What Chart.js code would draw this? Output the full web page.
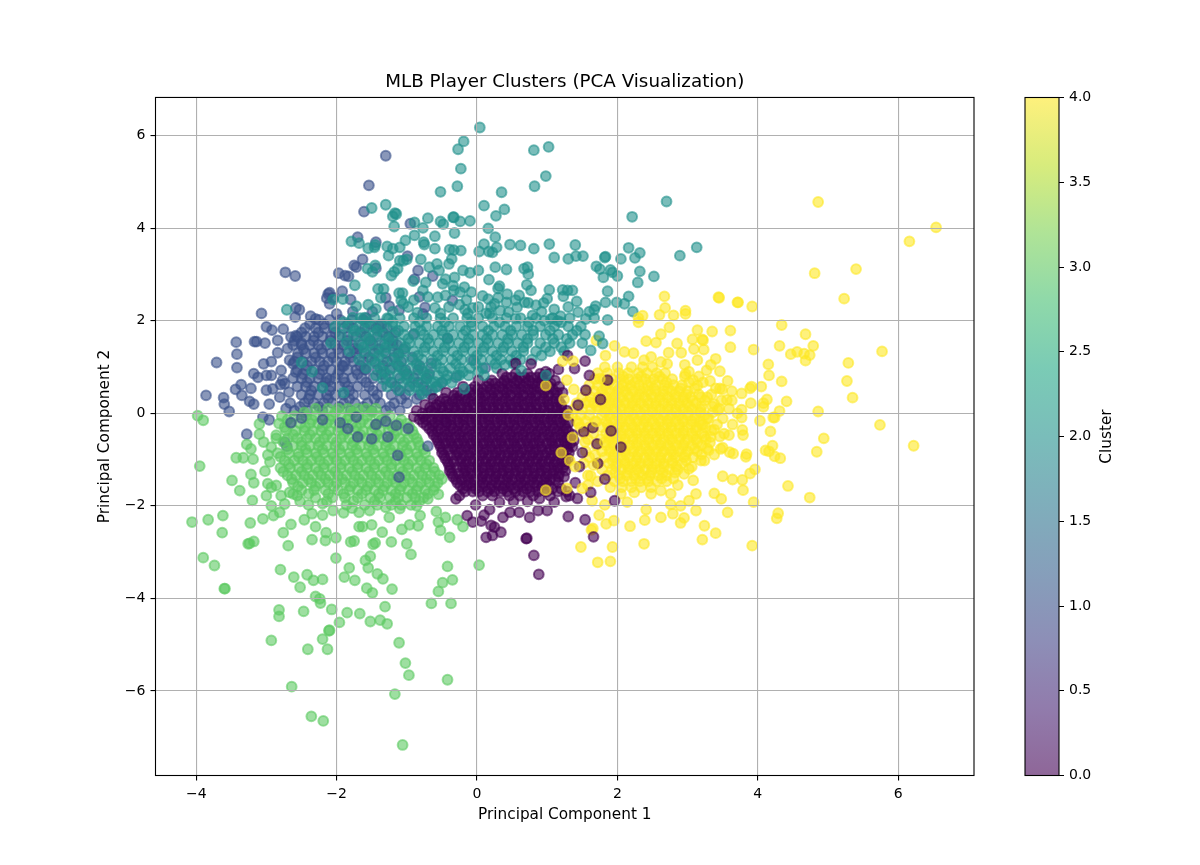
<!DOCTYPE html>
<html>
<head>
<meta charset="utf-8">
<title>MLB Player Clusters</title>
<script src="https://cdn.jsdelivr.net/npm/chart.js@4/dist/chart.umd.min.js"></script>
<style>
  html, body { margin: 0; background: #fff; }
  #wrap { position: relative; width: 1200px; height: 865px; }
  canvas { position: absolute; top: 0; }
  #scatter { left: 0; }
  #colorbar { left: 1000px; }
</style>
</head>
<body>
<div id="wrap">
  <canvas id="scatter" width="1200" height="865"></canvas>
  <canvas id="colorbar" width="200" height="865"></canvas>
</div>
<script>
// viridis colours of the five cluster labels
const clusterColors = ["68,1,84", "59,82,139", "33,145,140", "94,201,98", "253,231,37"];
const xTicks = [-4, -2, 0, 2, 4, 6];
const yTicks = [-6, -4, -2, 0, 2, 4, 6];
const barTicks = [0, 0.5, 1, 1.5, 2, 2.5, 3, 3.5, 4];
const barRange = [0, 4];
const barStops = ["68,1,84", "72,36,117", "65,68,135", "53,95,141", "42,120,142", "33,145,140", "34,168,132", "68,191,112", "122,209,81", "189,223,38", "253,231,37"];

// Crowded middles of the clusters, one row per y value: [y, [x, x, ...]]
const purpleRows = [
  [0.78, [0.42, 0.5, 0.6, 0.68, 0.77, 0.86, 0.93]],
  [0.65, [0.17, 0.26, 0.35, 0.43, 0.53, 0.61, 0.7, 0.79, 0.87, 0.97, 1.05]],
  [0.52, [-0.08, 0.01, 0.09, 0.19, 0.27, 0.37, 0.45, 0.55, 0.63, 0.73, 0.81, 0.9, 0.99, 1.08]],
  [0.39, [-0.33, -0.24, -0.16, -0.06, 0.03, 0.12, 0.21, 0.3, 0.39, 0.48, 0.57, 0.66, 0.75, 0.84, 0.93, 1.02, 1.12]],
  [0.26, [-0.53, -0.44, -0.35, -0.27, -0.17, -0.09, 0.01, 0.09, 0.18, 0.27, 0.36, 0.45, 0.55, 0.63, 0.72, 0.81, 0.9, 1, 1.08, 1.17]],
  [0.13, [-0.67, -0.59, -0.5, -0.4, -0.32, -0.22, -0.14, -0.04, 0.05, 0.13, 0.23, 0.31, 0.41, 0.5, 0.58, 0.68, 0.76, 0.85, 0.95, 1.03, 1.13, 1.2]],
  [0, [-0.78, -0.7, -0.6, -0.51, -0.43, -0.33, -0.25, -0.15, -0.07, 0.03, 0.11, 0.2, 0.29, 0.38, 0.46, 0.56, 0.64, 0.73, 0.82, 0.9, 1, 1.08, 1.17, 1.24]],
  [-0.13, [-0.82, -0.73, -0.64, -0.56, -0.46, -0.38, -0.28, -0.2, -0.11, -0.02, 0.07, 0.16, 0.25, 0.34, 0.42, 0.52, 0.6, 0.69, 0.78, 0.87, 0.96, 1.05, 1.14, 1.23]],
  [-0.26, [-0.72, -0.63, -0.55, -0.45, -0.37, -0.27, -0.19, -0.09, 0, 0.08, 0.18, 0.26, 0.36, 0.45, 0.53, 0.63, 0.71, 0.8, 0.9, 0.98, 1.08, 1.16, 1.25]],
  [-0.39, [-0.64, -0.56, -0.46, -0.38, -0.29, -0.2, -0.11, -0.02, 0.06, 0.16, 0.24, 0.33, 0.43, 0.51, 0.6, 0.69, 0.78, 0.87, 0.96, 1.05, 1.14, 1.23, 1.3]],
  [-0.52, [-0.58, -0.49, -0.41, -0.31, -0.23, -0.13, -0.05, 0.05, 0.13, 0.22, 0.31, 0.4, 0.49, 0.58, 0.66, 0.76, 0.84, 0.93, 1.03, 1.11, 1.2, 1.28, 1.33]],
  [-0.65, [-0.54, -0.45, -0.36, -0.27, -0.18, -0.09, 0, 0.09, 0.18, 0.27, 0.35, 0.45, 0.53, 0.62, 0.72, 0.8, 0.89, 0.99, 1.07, 1.16, 1.25, 1.33]],
  [-0.78, [-0.49, -0.41, -0.31, -0.23, -0.13, -0.05, 0.05, 0.13, 0.22, 0.31, 0.4, 0.49, 0.58, 0.66, 0.76, 0.84, 0.93, 1.03, 1.11, 1.2, 1.29]],
  [-0.91, [-0.47, -0.37, -0.29, -0.19, -0.11, -0.01, 0.07, 0.17, 0.26, 0.34, 0.44, 0.52, 0.61, 0.71, 0.79, 0.88, 0.97, 1.06, 1.15, 1.24]],
  [-1.04, [-0.42, -0.33, -0.24, -0.15, -0.06, 0.03, 0.12, 0.21, 0.3, 0.39, 0.48, 0.57, 0.66, 0.75, 0.84, 0.93, 1.02, 1.11, 1.2, 1.27]],
  [-1.17, [-0.38, -0.29, -0.2, -0.11, -0.02, 0.07, 0.16, 0.25, 0.34, 0.43, 0.52, 0.61, 0.7, 0.79, 0.88, 0.97, 1.06, 1.15, 1.23]],
  [-1.3, [-0.36, -0.26, -0.18, -0.08, 0, 0.1, 0.18, 0.28, 0.36, 0.46, 0.54, 0.64, 0.72, 0.82, 0.9, 1, 1.08, 1.17]],
  [-1.43, [-0.3, -0.22, -0.12, -0.04, 0.06, 0.14, 0.24, 0.32, 0.42, 0.5, 0.6, 0.68, 0.78, 0.86, 0.96, 1.04, 1.12]],
  [-1.56, [-0.24, -0.15, -0.06, 0.04, 0.12, 0.21, 0.31, 0.39, 0.48, 0.58, 0.66, 0.75, 0.85, 0.93, 1.02]],
  [-1.69, [-0.17, -0.06, 0.03, 0.15, 0.25, 0.34, 0.43, 0.55, 0.66, 0.76, 0.87, 0.99, 1.15, 1.28]],
  // second sweep between the rows above
  [0.86, [0.36, 0.55, 0.72, 0.9, 1.03]],
  [0.71, [0.02, 0.21, 0.39, 0.57, 0.74, 0.92, 1.11]],
  [0.58, [-0.2, -0.03, 0.14, 0.32, 0.48, 0.66, 0.85, 1.03, 1.17]],
  [0.45, [-0.44, -0.28, -0.1, 0.07, 0.24, 0.42, 0.6, 0.78, 0.96, 1.14, 1.22]],
  [0.32, [-0.62, -0.47, -0.3, -0.13, 0.05, 0.23, 0.41, 0.59, 0.77, 0.95, 1.13]],
  [0.19, [-0.74, -0.58, -0.41, -0.24, -0.06, 0.12, 0.3, 0.48, 0.66, 0.84, 1.02, 1.2]],
  [0.06, [-0.86, -0.65, -0.48, -0.3, -0.12, 0.06, 0.24, 0.42, 0.6, 0.78, 0.96, 1.14, 1.28]],
  [-0.07, [-0.9, -0.76, -0.55, -0.37, -0.19, -0.01, 0.17, 0.35, 0.53, 0.71, 0.89, 1.07, 1.25]],
  [-0.2, [-0.77, -0.6, -0.43, -0.25, -0.07, 0.11, 0.29, 0.47, 0.65, 0.83, 1.01, 1.19, 1.31]],
  [-0.33, [-0.68, -0.52, -0.34, -0.16, 0.02, 0.2, 0.38, 0.56, 0.74, 0.92, 1.1, 1.27]],
  [-0.46, [-0.62, -0.43, -0.25, -0.07, 0.11, 0.29, 0.47, 0.65, 0.83, 1.01, 1.19, 1.36]],
  [-0.59, [-0.56, -0.38, -0.2, -0.02, 0.16, 0.34, 0.52, 0.7, 0.88, 1.06, 1.24, 1.38]],
  [-0.72, [-0.52, -0.34, -0.16, 0.02, 0.2, 0.38, 0.56, 0.74, 0.92, 1.1, 1.28, 1.36]],
  [-0.85, [-0.5, -0.27, -0.09, 0.09, 0.27, 0.45, 0.63, 0.81, 0.99, 1.17, 1.31]],
  [-0.98, [-0.45, -0.22, -0.04, 0.14, 0.32, 0.5, 0.68, 0.86, 1.04, 1.22, 1.3]],
  [-1.11, [-0.4, -0.17, 0.01, 0.19, 0.37, 0.55, 0.73, 0.91, 1.09, 1.25]],
  [-1.24, [-0.39, -0.16, 0.02, 0.2, 0.38, 0.56, 0.74, 0.92, 1.1, 1.26]],
  [-1.37, [-0.34, -0.14, 0.08, 0.26, 0.44, 0.62, 0.8, 0.98, 1.16, 1.24]],
  [-1.5, [-0.28, -0.09, 0.09, 0.27, 0.45, 0.63, 0.81, 0.99, 1.16]],
  [-1.63, [-0.2, -0.02, 0.19, 0.37, 0.52, 0.71, 0.92, 1.07, 1.2]],
  [-1.78, [-0.25, 0.08, 0.22, 0.46, 0.61, 0.8, 1.04, 1.32]]
];
const yellowRows = [
  [1, [1.82, 2.0, 2.2, 2.36, 2.5]],
  [0.87, [1.72, 1.86, 2.02, 2.15, 2.3, 2.42, 2.56, 2.68]],
  [0.74, [1.68, 1.8, 1.92, 2.04, 2.16, 2.28, 2.4, 2.52, 2.64, 2.78]],
  [0.61, [1.6, 1.72, 1.83, 1.95, 2.07, 2.19, 2.31, 2.43, 2.55, 2.67, 2.8, 2.92]],
  [0.48, [1.56, 1.67, 1.78, 1.89, 2, 2.11, 2.22, 2.33, 2.44, 2.55, 2.66, 2.77, 2.88, 3]],
  [0.35, [1.5, 1.62, 1.73, 1.84, 1.95, 2.06, 2.17, 2.28, 2.39, 2.5, 2.61, 2.72, 2.83, 2.94, 3.04]],
  [0.22, [1.42, 1.54, 1.66, 1.78, 1.89, 2, 2.11, 2.22, 2.33, 2.44, 2.55, 2.66, 2.77, 2.88, 2.99, 3.12]],
  [0.09, [1.38, 1.5, 1.62, 1.73, 1.84, 1.95, 2.06, 2.17, 2.28, 2.39, 2.5, 2.61, 2.72, 2.83, 2.94, 3.06, 3.18]],
  [-0.04, [1.36, 1.48, 1.6, 1.78, 1.89, 2, 2.11, 2.22, 2.33, 2.44, 2.55, 2.66, 2.77, 2.88, 3, 3.12, 3.24]],
  [-0.17, [1.42, 1.55, 1.68, 1.84, 1.95, 2.06, 2.17, 2.28, 2.39, 2.5, 2.61, 2.72, 2.83, 2.94, 3.06, 3.18]],
  [-0.3, [1.47, 1.6, 1.78, 1.89, 2, 2.11, 2.22, 2.33, 2.44, 2.55, 2.66, 2.77, 2.88, 3, 3.13, 3.26]],
  [-0.43, [1.52, 1.66, 1.84, 1.95, 2.06, 2.17, 2.28, 2.39, 2.5, 2.61, 2.72, 2.83, 2.94, 3.06, 3.2]],
  [-0.56, [1.58, 1.76, 1.89, 2, 2.11, 2.22, 2.33, 2.44, 2.55, 2.66, 2.77, 2.88, 3, 3.12, 3.26]],
  [-0.69, [1.7, 1.84, 1.95, 2.06, 2.17, 2.28, 2.39, 2.5, 2.61, 2.72, 2.83, 2.94, 3.06, 3.2]],
  [-0.82, [1.55, 1.78, 1.89, 2, 2.11, 2.22, 2.33, 2.44, 2.55, 2.66, 2.77, 2.88, 3, 3.14]],
  [-0.95, [1.6, 1.82, 1.95, 2.06, 2.17, 2.28, 2.39, 2.5, 2.61, 2.72, 2.83, 2.95, 3.08]],
  [-1.08, [1.52, 1.72, 1.88, 2, 2.11, 2.22, 2.33, 2.44, 2.55, 2.66, 2.78, 2.92]],
  [-1.21, [1.78, 1.92, 2.06, 2.17, 2.28, 2.39, 2.5, 2.61, 2.74, 2.86]],
  [-1.34, [1.58, 1.86, 2.02, 2.13, 2.24, 2.35, 2.46, 2.58, 2.7]],
  [-1.47, [1.72, 1.96, 2.08, 2.2, 2.32, 2.44, 2.56, 2.7]],
  [-1.6, [1.9, 2.06, 2.2, 2.34, 2.48]],
  // second sweep, tightest around the centre of the cluster
  [0.8, [2.08, 2.34, 2.6, 2.96, 3.16]],
  [0.67, [1.88, 2.1, 2.25, 2.47, 2.7, 3.02, 3.22]],
  [0.54, [1.84, 2.03, 2.18, 2.37, 2.52, 2.72, 2.9, 3.1, 3.4]],
  [0.41, [1.8, 1.97, 2.14, 2.31, 2.48, 2.65, 2.82, 2.98, 3.16, 3.34]],
  [0.28, [1.75, 1.92, 2.09, 2.26, 2.43, 2.6, 2.77, 2.94, 3.08, 3.25, 3.48]],
  [0.15, [1.7, 1.87, 2.04, 2.21, 2.38, 2.55, 2.72, 2.89, 3.03, 3.2, 3.35]],
  [0.02, [1.82, 1.99, 2.16, 2.33, 2.5, 2.67, 2.84, 3.01, 3.18, 3.36]],
  [-0.11, [1.9, 2.07, 2.24, 2.41, 2.58, 2.75, 2.92, 3.1, 3.3, 3.5]],
  [-0.24, [1.86, 2.03, 2.2, 2.37, 2.54, 2.71, 2.88, 3.05, 3.22, 3.42]],
  [-0.37, [1.92, 2.09, 2.26, 2.43, 2.6, 2.77, 2.94, 3.12, 3.34]],
  [-0.5, [1.88, 2.05, 2.22, 2.39, 2.56, 2.73, 2.9, 3.08, 3.24, 3.46]],
  [-0.63, [1.94, 2.11, 2.28, 2.45, 2.62, 2.79, 2.96, 3.14, 3.32]],
  [-0.76, [1.9, 2.07, 2.24, 2.41, 2.58, 2.75, 2.92, 3.1, 3.28]],
  [-0.89, [1.95, 2.12, 2.29, 2.46, 2.63, 2.8, 2.97, 3.2, 3.38]],
  [-1.02, [1.93, 2.1, 2.27, 2.44, 2.61, 2.78, 2.98, 3.24]],
  [-1.15, [1.98, 2.15, 2.32, 2.49, 2.66, 2.84, 3.06]],
  [-1.28, [1.97, 2.14, 2.31, 2.48, 2.65, 2.82]],
  [-1.41, [2.04, 2.26, 2.42, 2.63, 2.8]]
];
const greenRows = [
  [0.1, [-2.3, -2.12, -1.98, -1.84, -1.7, -1.58, -1.44]],
  [-0.06, [-2.78, -2.6, -2.44, -2.3, -2.18, -2.06, -1.94, -1.82, -1.7, -1.56, -1.4, -1.24]],
  [-0.22, [-2.82, -2.66, -2.52, -2.38, -2.26, -2.14, -2.02, -1.9, -1.78, -1.66, -1.54, -1.42, -1.28, -1.12, -1]],
  [-0.38, [-2.72, -2.58, -2.46, -2.34, -2.22, -2.1, -1.98, -1.86, -1.74, -1.62, -1.5, -1.38, -1.26, -1.14, -1.02, -0.92]],
  [-0.54, [-2.86, -2.7, -2.56, -2.42, -2.3, -2.18, -2.06, -1.94, -1.82, -1.7, -1.58, -1.46, -1.34, -1.22, -1.1, -0.98, -0.86]],
  [-0.7, [-2.62, -2.5, -2.38, -2.26, -2.14, -2.02, -1.9, -1.78, -1.66, -1.54, -1.42, -1.3, -1.18, -1.06, -0.94, -0.82]],
  [-0.86, [-2.84, -2.68, -2.54, -2.42, -2.3, -2.18, -2.06, -1.94, -1.82, -1.7, -1.58, -1.46, -1.34, -1.22, -1.1, -0.98, -0.86, -0.74]],
  [-1.02, [-2.74, -2.6, -2.48, -2.36, -2.24, -2.12, -2, -1.88, -1.76, -1.64, -1.52, -1.4, -1.28, -1.16, -1.04, -0.92, -0.8, -0.68]],
  [-1.18, [-2.8, -2.66, -2.54, -2.42, -2.3, -2.18, -2.06, -1.94, -1.82, -1.7, -1.58, -1.46, -1.34, -1.22, -1.1, -0.98, -0.86, -0.74, -0.62]],
  [-1.34, [-2.7, -2.58, -2.46, -2.34, -2.22, -2.1, -1.98, -1.86, -1.74, -1.62, -1.5, -1.38, -1.26, -1.14, -1.02, -0.9, -0.78, -0.66, -0.54]],
  [-1.5, [-2.62, -2.48, -2.36, -2.24, -2.12, -2, -1.88, -1.76, -1.64, -1.52, -1.4, -1.28, -1.16, -1.04, -0.92, -0.8, -0.68, -0.56]],
  [-1.66, [-2.5, -2.32, -2.16, -1.98, -1.82, -1.7, -1.58, -1.46, -1.34, -1.22, -1.1, -0.98, -0.86, -0.74, -0.62]],
  [-1.82, [-2.3, -2.06, -1.88, -1.7, -1.52, -1.38, -1.24, -1.12, -1, -0.88, -0.76]],
  [-1.98, [-2.4, -1.86, -1.6, -1.42, -1.22, -1.08, -0.94]],
  // second sweep between the rows above
  [0.02, [-2.46, -2.02, -1.76, -1.5]],
  [-0.14, [-2.7, -2.35, -2.1, -1.85, -1.62, -1.36, -1.08]],
  [-0.3, [-2.74, -2.45, -2.2, -1.96, -1.72, -1.46, -1.2, -0.96]],
  [-0.46, [-2.62, -2.38, -2.14, -1.9, -1.66, -1.42, -1.18, -0.9]],
  [-0.62, [-2.76, -2.5, -2.24, -2, -1.76, -1.52, -1.28, -1.04, -0.84]],
  [-0.78, [-2.7, -2.44, -2.2, -1.96, -1.72, -1.48, -1.24, -1, -0.76]],
  [-0.94, [-2.8, -2.54, -2.28, -2.04, -1.8, -1.56, -1.32, -1.08, -0.84]],
  [-1.1, [-2.68, -2.42, -2.18, -1.94, -1.7, -1.46, -1.22, -0.98, -0.72]],
  [-1.26, [-2.76, -2.5, -2.26, -2.02, -1.78, -1.54, -1.3, -1.06, -0.82, -0.6]],
  [-1.42, [-2.64, -2.4, -2.16, -1.92, -1.68, -1.44, -1.2, -0.96, -0.72, -0.5]],
  [-1.58, [-2.55, -2.3, -2.04, -1.8, -1.56, -1.32, -1.08, -0.84, -0.6]],
  [-1.74, [-2.62, -2.4, -2.12, -1.9, -1.64, -1.4, -1.16, -0.92, -0.7]],
  [-1.9, [-2.52, -2.14, -1.76, -1.46, -1.16, -0.82]]
];
const blueRows = [
  [2.02, [-2.25, -2.1, -1.95, -1.78, -1.62]],
  [1.84, [-2.45, -2.3, -2.17, -2.04, -1.9, -1.76, -1.6, -1.44, -1.28]],
  [1.66, [-2.56, -2.44, -2.32, -2.2, -2.08, -1.96, -1.84, -1.72, -1.58, -1.42, -1.26]],
  [1.48, [-2.62, -2.5, -2.38, -2.26, -2.14, -2.02, -1.9, -1.78, -1.64, -1.48, -1.32, -1.14]],
  [1.3, [-2.55, -2.44, -2.32, -2.2, -2.08, -1.96, -1.84, -1.72, -1.6, -1.46, -1.3, -1.12]],
  [1.12, [-2.6, -2.48, -2.36, -2.24, -2.12, -2, -1.88, -1.76, -1.62, -1.46, -1.28, -1.08]],
  [0.94, [-2.56, -2.44, -2.32, -2.2, -2.08, -1.96, -1.84, -1.72, -1.58, -1.42, -1.24, -1.02, -0.84]],
  [0.76, [-2.62, -2.5, -2.38, -2.26, -2.14, -2.02, -1.9, -1.78, -1.64, -1.48, -1.3, -1.1, -0.9, -0.72]],
  [0.58, [-2.56, -2.44, -2.32, -2.2, -2.08, -1.96, -1.84, -1.7, -1.54, -1.36, -1.16, -0.96, -0.76, -0.58]],
  [0.4, [-2.5, -2.38, -2.26, -2.14, -2.02, -1.9, -1.76, -1.6, -1.42, -1.22, -1.02, -0.82, -0.66]],
  [0.22, [-2.46, -2.32, -2.18, -2.06, -1.9, -1.74, -1.56, -1.38, -1.18, -1]],
  [0.06, [-2.6, -2.42, -2.2, -1.8, -1.5, -1.3, -1.1]],
  // second sweep between the rows above
  [1.93, [-2.38, -2.18, -1.84, -1.52, -1.36]],
  [1.75, [-2.5, -2.26, -2.02, -1.66, -1.34, -1.16]],
  [1.57, [-2.6, -2.33, -2.09, -1.85, -1.52, -1.2]],
  [1.39, [-2.47, -2.22, -1.98, -1.7, -1.4, -1.04]],
  [1.21, [-2.56, -2.3, -2.05, -1.8, -1.54, -1.18, -0.92]],
  [1.03, [-2.42, -2.18, -1.92, -1.66, -1.34, -1.12, -0.82]],
  [0.85, [-2.48, -2.24, -1.98, -1.7, -1.36, -1, -0.68]],
  [0.67, [-2.42, -2.16, -1.88, -1.58, -1.22, -0.84, -0.5]],
  [0.49, [-2.36, -2.1, -1.82, -1.48, -1.1, -0.72]],
  [0.31, [-2.4, -2.12, -1.82, -1.46, -1.08, -0.86]],
  [0.14, [-2.52, -2.25, -1.96, -1.62, -1.24]]
];
const tealRows = [
  [2.06, [-1.66, -1.46, -1.28, -1.1, -0.9, -0.72, -0.52, -0.34, -0.14, 0.02, 0.22, 0.42, 0.62, 0.84, 1.08, 1.32]],
  [1.88, [-2.02, -1.84, -1.68, -1.52, -1.36, -1.2, -1.04, -0.88, -0.72, -0.56, -0.4, -0.24, -0.08, 0.08, 0.24, 0.4, 0.56, 0.72, 0.9, 1.1, 1.3, 1.48]],
  [1.7, [-1.94, -1.76, -1.6, -1.46, -1.32, -1.18, -1.04, -0.9, -0.76, -0.62, -0.48, -0.34, -0.2, -0.06, 0.08, 0.22, 0.36, 0.5, 0.64, 0.8, 0.98, 1.16, 1.36, 1.54]],
  [1.52, [-2.08, -1.86, -1.68, -1.52, -1.38, -1.24, -1.1, -0.96, -0.82, -0.68, -0.54, -0.4, -0.26, -0.12, 0.02, 0.16, 0.3, 0.44, 0.58, 0.72, 0.9, 1.1, 1.32, 1.5]],
  [1.34, [-1.82, -1.6, -1.46, -1.32, -1.18, -1.04, -0.9, -0.76, -0.62, -0.48, -0.34, -0.2, -0.06, 0.08, 0.22, 0.36, 0.5, 0.66, 0.84, 1.04, 1.24]],
  [1.16, [-1.68, -1.5, -1.34, -1.2, -1.06, -0.92, -0.78, -0.64, -0.5, -0.36, -0.22, -0.08, 0.06, 0.2, 0.34, 0.48, 0.62, 0.78]],
  [0.98, [-1.58, -1.38, -1.22, -1.08, -0.94, -0.8, -0.66, -0.52, -0.38, -0.24, -0.1, 0.08, 0.28]],
  [0.82, [-1.44, -1.26, -1.12, -0.98, -0.84, -0.7, -0.56, -0.42, -0.28, -0.12]],
  [0.66, [-1.22, -1.06, -0.92, -0.78, -0.64, -0.5, -0.36]],
  [0.5, [-1.12, -0.96, -0.8, -0.64]],
  // second sweep between the rows above
  [1.97, [-1.9, -1.58, -1.2, -0.82, -0.46, -0.08, 0.32, 0.74, 1.2]],
  [1.79, [-1.74, -1.42, -1.12, -0.8, -0.5, -0.16, 0.16, 0.48, 0.8, 1.04, 1.42]],
  [1.61, [-1.54, -1.26, -0.98, -0.7, -0.42, -0.12, 0.14, 0.44, 0.72, 1.08, 1.28]],
  [1.43, [-1.62, -1.3, -1.02, -0.74, -0.46, -0.18, 0.1, 0.38, 0.66, 0.98, 1.2]],
  [1.25, [-1.4, -1.12, -0.84, -0.56, -0.28, 0, 0.28, 0.56, 0.92]],
  [1.07, [-1.44, -1.14, -0.86, -0.58, -0.3, -0.02, 0.26, 0.52]],
  [0.9, [-1.32, -1.04, -0.76, -0.48, -0.2, 0.02]],
  [0.74, [-1.34, -1, -0.72, -0.44]],
  [0.58, [-1.28, -0.88, -0.56]]
];

// Points read one by one where the clouds thin out
const purpleOuter = [
  [0.7, -2.71], [1.3, -2.23], [1.54, -2.3], [1.66, -2.67], [1.96, -1.89], [1.82, -1.42], [1.71, -0.66], [1.65, -0.31],
  [2.05, -0.73], [1.91, -0.38], [1.86, 0.72], [1.54, 1.13], [1.39, 0.97], [1.29, 1.25], [0.98, 0.9], [0.77, 1.07],
  [0.34, -2.57], [0.25, -2.46], [0.2, -2.42], [0.22, -2.64], [0.13, -2.68], [0.06, -2.33], [-0.06, -2.35], [-0.14, -2.21],
  [0.1, -2.2], [0.75, -2.25], [0.87, -2.1], [1, -2.1], [0.6, -2.14], [0.47, -2.14], [0.37, -2.25], [0.18, -2.08],
  [1.27, -1.8], [1.43, -1.84], [1.62, -1.71], [0.89, -1.84], [0.72, -1.9], [0.71, -2.7], [0.81, -3.07], [0.88, -3.48],
  [-0.02, -1.98], [0.32, -1.92], [0.52, -1.9], [1.1, -1.92], [-0.3, -1.85], [1.4, -1.5], [1.46, -1.15], [1.5, -0.85],
  [1.52, -0.4], [1.44, 0.18], [1.55, 0.5], [1.72, -1.08], [1.6, 0.82], [1.76, 0.3], [1.16, 0.95], [0.55, 1.08]
];
const blueOuter = [
  [-1.3, 5.57], [-1.54, 4.93], [-1.61, 4.36], [-0.95, 4.1], [-1.7, 3.81], [-1.44, 3.7], [-1.63, 3.33], [-0.99, 3.4],
  [-1.75, 3.2], [-1.72, 3.16], [-1.44, 3.14], [-1.97, 3.03], [-1.88, 2.98], [-1.83, 2.96], [-0.84, 3.09], [-0.63, 2.97],
  [-0.89, 2.9], [-2.73, 3.05], [-2.59, 2.97], [-0.82, 2.52], [-3.07, 2.16], [-2.58, 2.28], [-2.53, 2.24], [-2.59, 2.08],
  [-2.37, 2.1], [-2.3, 2.04], [-2.12, 2.58], [-2.1, 2.61], [-2.14, 2.49], [-2.1, 2.37], [-2.05, 2.5], [-1.92, 2.64],
  [-1.8, 2.46], [-1.3, 2.5], [-1.25, 2.32], [-1.11, 2.23], [-1.77, 2.2], [-1.49, 2.2], [-1.58, 2.06], [-2, 2.15],
  [-0.74, 2.29], [-0.77, 2.15], [-3.43, 1.54], [-3.42, 1.28], [-3.42, 0.99], [-3.71, 1.1], [-3.86, 0.39], [-3.61, 0.34],
  [-3.6, 0.2], [-3.53, 0.04], [-3.44, 0.52], [-3.36, 0.62], [-3.35, 0.39], [-3.22, 0.54], [-3.24, 0.26], [-3.18, 0.2],
  [-3.17, 1.55], [-3.14, 1.55], [-3.02, 1.52], [-3, 1.87], [-2.92, 1.8], [-2.76, 1.82], [-2.84, 1.58], [-2.84, 1.31],
  [-2.7, 1.4], [-2.65, 1.65], [-2.58, 1.68], [-2.5, 1.52], [-3.04, 1.07], [-2.93, 1.12], [-3.18, 0.86], [-3.12, 0.78],
  [-3, 0.82], [-2.93, 0.82], [-2.79, 0.93], [-2.67, 1.15], [-2.62, 1.07], [-2.58, 0.89], [-3, 0.5], [-2.91, 0.53],
  [-2.77, 0.71], [-2.74, 0.64], [-2.81, 0.35], [-2.96, 0.2], [-3.05, -0.08], [-2.96, -0.14], [-3.28, -0.45], [-2.74, -0.62],
  [-2.71, -0.71], [-2.8, 0.62], [-2.68, 0.46], [-2.66, 0.22], [-2.72, 0.1]
];
const blueOverGreen = [
  [-2.65, -0.2], [-1.84, -0.33], [-1.7, -0.51], [-1.5, -0.55], [-1.27, -0.51], [-1.44, -0.24], [-1.13, -0.91], [-1.11, -1.38],
  [-0.7, -0.71], [-1.15, -0.26], [-1.3, -0.17], [-0.98, -0.33], [-1.72, -0.08], [-2.5, -0.1], [-2.2, -0.14], [-1.95, -0.2],
  [-0.44, -0.19], [-0.35, 2.44], [-1.6, 0.95], [-1.9, 1.02], [-2.1, 0.72], [-1.75, 1.4], [-1.2, 1.46], [-0.65, 1.08],
  [-0.3, 0.78], [-0.05, 1.15], [0.12, 0.98], [-0.42, 1.62], [-0.9, 1.72], [-1.4, 1.9]
];
const tealOuter = [
  [0.04, 6.18], [-0.19, 5.88], [-0.27, 5.71], [-0.23, 5.29], [-0.28, 4.91], [0.35, 4.78], [0.1, 4.49], [0.39, 4.41],
  [0.27, 4.27], [0.81, 5.69], [1.02, 5.76], [0.98, 5.13], [0.82, 4.91], [2.7, 4.58], [2.21, 4.25], [3.13, 3.59],
  [2.89, 3.41], [0.16, 4], [0.26, 3.81], [-0.32, 3.9], [0.1, 3.66], [0.28, 3.59], [0.47, 3.65], [0.62, 3.63],
  [0.81, 3.56], [1.03, 3.66], [1.1, 3.37], [1.3, 3.34], [1.4, 3.64], [1.41, 3.4], [1.51, 3.4], [1.82, 3.37],
  [1.83, 3.39], [2.05, 3.34], [2.16, 3.58], [2.32, 3.47], [2.25, 3.36], [1.7, 3.18], [1.75, 3.12], [1.9, 3.1],
  [1.93, 3.05], [2, 2.97], [1.8, 2.94], [2.32, 3.07], [2.29, 2.83], [2.52, 2.96], [1.86, 2.64], [2.16, 2.53],
  [1.83, 2.4], [1.99, 2.4], [2.1, 2.37], [2.22, 2.2], [1.69, 2.32], [1.67, 2.24], [1.67, 2.06], [1.86, 2.02],
  [1.44, 2.19], [0.03, 3.5], [0.17, 3.5], [0.22, 3.48], [-0.23, 3.52], [-0.33, 3.53], [-0.24, 4.15], [-0.1, 4.16],
  [-0.33, 4.24], [0.02, 3.09], [0.26, 3.16], [0.42, 3.11], [-0.2, 3.09], [-0.1, 3.04], [0.17, 2.89], [0.67, 3.13],
  [0.72, 3.16], [0.73, 3.01], [0.71, 2.78], [0.77, 2.66], [1.03, 2.67], [0.32, 2.75], [0.3, 2.7], [0.43, 2.58],
  [1.22, 2.67], [1.29, 2.66], [1.36, 2.66], [1.23, 2.53], [1, 2.48], [0.95, 2.39], [0.84, 2.34], [0.73, 2.39],
  [0.68, 2.4], [0.57, 2.29], [0.45, 2.19], [0.79, 2.12], [0.08, 2.54], [0.16, 2.47], [0.25, 2.37], [0.2, 2.3],
  [0.18, 2.16], [0.13, 2.16], [-0.06, 2.28], [-0.17, 2.24], [-0.13, 2.16], [-0.08, 2.62], [-0.18, 2.73], [-0.24, 2.62],
  [-0.32, 2.94], [-0.33, 2.66], [1.19, 2.1], [1.05, 2.04], [0.96, 2], [1.15, 2], [-0.52, 4.79], [-1.3, 4.51],
  [-1.5, 4.44], [-1.2, 4.26], [-1.17, 4.33], [-1.15, 4.31], [-1.18, 4.04], [-0.89, 4.13], [-0.7, 4.22], [-0.77, 4.01],
  [-0.52, 4.15], [-0.48, 4.09], [-0.34, 4.24], [-0.89, 3.85], [-0.6, 3.83], [-0.76, 3.7], [-0.75, 3.65], [-0.6, 3.56],
  [-1.02, 3.74], [-1.1, 3.59], [-1.28, 3.61], [-1.2, 3.56], [-1.26, 3.41], [-1.55, 3.57], [-1.46, 3.59], [-1.45, 3.64],
  [-1.79, 3.72], [-1.68, 3.68], [-0.39, 3.54], [-0.36, 3.34], [-0.4, 3.23], [-0.8, 3.33], [-1, 3.33], [-1.1, 3.3],
  [-1.05, 3.3], [-1.13, 3.13], [-1.18, 3.06], [-1.22, 2.98], [-1.56, 3.13], [-1.49, 3.06], [-1.45, 3.2], [-0.91, 2.86],
  [-0.68, 3.16], [-0.57, 3.23], [-0.54, 3.09], [-0.49, 2.8], [-0.73, 2.83], [-0.77, 2.66], [-0.7, 2.52], [-0.56, 2.51],
  [-0.45, 2.9], [-0.34, 2.76], [-1.74, 2.77], [-1.41, 2.69], [-1.33, 2.69], [-1.37, 2.5], [-1.11, 2.6], [-1.06, 2.6],
  [-1.08, 2.44], [-1.05, 2.37], [-2.71, 2.24], [-2.05, 2.46], [-1.91, 2.47], [-1.77, 2.07], [-1.6, 2.07], [-1.26, 2.04],
  [-0.98, 2.3], [-0.6, 2.28], [-0.4, 2.3], [-0.25, 2.35], [-1.55, 2.35], [-1.2, 2.2], [0.42, 2.4], [0.55, 2.05],
  [1.3, 2.3], [1.55, 2.04], [-2.2, 0.55], [-2.5, 1.1], [-2.35, 0.9], [-1.9, 0.45], [-0.9, 2.45], [-0.45, 2.55],
  [-0.15, 2.45], [0.02, 2.3], [0.33, 2.22], [0.6, 2.55], [0.92, 2.2], [1.1, 2.25], [1.42, 2.42], [-1.72, 2.32],
  [-1.44, 2.26], [-0.85, 2.18], [-0.52, 2.16], [0.3, 2.5], [0.55, 2.45], [1.6, 2.2]
];
const greenOuter = [
  [-3.9, -3.12], [-3.74, -3.29], [-3.6, -3.79], [-3.59, -3.79], [-2.8, -3.38], [-2.61, -3.54], [-2.52, -3.76], [-2.42, -3.49],
  [-2.33, -3.61], [-2.2, -3.59], [-2.01, -3.13], [-1.82, -3.34], [-1.89, -3.54], [-1.74, -3.61], [-1.55, -3.34], [-1.59, -3.18],
  [-1.52, -3.09], [-1.42, -3.47], [-1.34, -3.58], [-1.21, -3.8], [-1.57, -3.78], [-1.49, -3.88], [-2.3, -3.96], [-2.24, -4.01],
  [-2.23, -4.1], [-2.82, -4.25], [-2.82, -4.39], [-2.47, -4.28], [-2.07, -4.24], [-1.85, -4.31], [-1.67, -4.33], [-1.52, -4.5],
  [-1.38, -4.47], [-1.28, -4.55], [-1.31, -4.18], [-1.96, -4.52], [-2.11, -4.7], [-2.1, -4.69], [-2.2, -4.88], [-2.13, -5.1],
  [-2.41, -5.1], [-2.93, -4.91], [-1.11, -4.96], [-1.02, -5.4], [-0.97, -5.66], [-0.42, -5.76], [-2.64, -5.91], [-1.17, -6.07],
  [-2.36, -6.55], [-2.19, -6.65], [-1.06, -7.17], [-0.65, -4.11], [-0.37, -4.11], [-0.55, -3.85], [-0.49, -3.66], [-0.35, -3.6],
  [-0.42, -3.31], [0.03, -3.28], [-0.94, -3.05], [-1, -2.82], [-1.22, -2.78], [-1.48, -2.83], [-1.45, -2.8], [-2.69, -2.86],
  [-3.24, -2.81], [-3.26, -2.82], [-3.18, -2.77], [-2.35, -2.73], [-2.16, -2.75], [-2.01, -2.69], [-1.8, -2.78], [-1.75, -2.76],
  [-3.98, -0.05], [-3.9, -0.15], [-3.95, -1.14], [-4.06, -2.35], [-3.83, -2.3], [-3.62, -2.21], [-3.63, -2.58], [-3.49, -1.45],
  [-3.38, -1.67], [-3.2, -1.88], [-3.23, -2.37], [-3.05, -2.28], [-2.9, -2.21], [-2.65, -2.4], [-2.76, -2.58], [-2.46, -2.3],
  [-2.35, -2.17], [-2.3, -2.45], [-2.15, -2.58], [-1.68, -2.14], [-1.68, -2.45], [-1.63, -2.45], [-1.5, -2.41], [-1.35, -2.57],
  [-1.07, -2.51], [-0.96, -2.41], [-0.84, -2.43], [-0.81, -2.21], [-0.55, -2.35], [-0.52, -2.53], [-0.39, -2.68], [-0.58, -2.12],
  [-1.53, -2.1], [-1.25, -2.25], [-1.3, -2.03], [-3.33, -0.96], [-3.43, -0.96], [-3.28, -0.67], [-3.22, -0.77], [-3.19, -0.99],
  [-3.22, -1.32], [-3.18, -1.5], [-3.02, -1.25], [-3.04, -0.62], [-2.93, -0.73], [-3.1, -0.23], [-2.86, -0.47], [-2.98, -1.52],
  [-2.93, -1.6], [-2.86, -1.56], [-3, -1.78], [-2.93, -2], [-2.74, -1.96], [-2.79, -1.78], [-2.67, -1.71], [-2.56, -1.78],
  [-2.81, -2.14], [-2.95, -1.05], [-2.98, -0.9], [-2.2, -1.95], [-2.05, -2.1], [-1.9, -2.15], [-2.2, -2.2], [-1.78, -2.05],
  [-1.1, -2.06], [-0.86, -2], [-0.7, -1.85], [-0.55, -1.75], [-0.45, -2.25], [-0.28, -2.3], [-0.2, -2.45], [-3.1, -0.45]
];
const yellowOuter = [
  [4.86, 4.57], [6.54, 4.02], [6.16, 3.72], [5.4, 3.12], [4.81, 3.03], [5.23, 2.48], [3.45, 2.5], [3.72, 2.4],
  [3.92, 2.31], [4.34, 1.91], [3.35, 1.77], [3.61, 1.79], [4.68, 1.71], [4.79, 1.46], [4.31, 1.46], [3.61, 1.43],
  [3.94, 1.38], [4.47, 1.28], [4.56, 1.33], [4.66, 1.29], [4.74, 1.26], [4.68, 1.14], [5.77, 1.34], [5.29, 1.09],
  [5.27, 0.7], [5.35, 0.34], [5.74, -0.25], [6.22, -0.7], [4.86, 0.04], [4.94, -0.54], [4.84, -0.83], [4.74, -1.82],
  [4.43, -1.57], [4.29, -2.16], [4.27, -2.27], [3.94, -1.92], [3.92, -2.86], [3.57, -2.14], [3.4, -2.59], [3.24, -2.43],
  [3.21, -2.73], [3.38, -1.73], [3.48, -1.85], [3.79, -1.66], [3.78, -1.44], [3.64, -1.43], [3.5, -1.36], [3.89, -1.3],
  [3.96, -1.21], [4.32, -0.97], [4.24, -0.93], [4.16, -0.82], [4.11, -0.8], [4.21, -0.7], [4.18, -0.39], [4.03, -0.16],
  [4.24, -0.09], [4.22, -0.09], [4.31, 0.05], [4.41, 0.26], [4.13, 0.3], [4.08, 0.22], [4.08, 0.14], [4.34, 0.69],
  [4.16, 0.82], [4.15, 1.06], [4.05, 0.58], [3.91, 0.58], [3.89, 0.54], [3.77, 0.43], [3.63, 0.48], [3.57, 0.7],
  [3.49, 0.52], [3.46, 0.54], [3.46, 0.91], [3.32, 0.7], [3.4, 1.18], [3.33, 1.05], [3.27, 0.93], [3.23, 1.38],
  [3.22, 1.58], [3.21, 1.6], [3.9, 0.22], [3.77, 0.08], [3.77, -0.09], [3.71, 0], [3.78, -0.36], [3.79, -0.47],
  [3.64, -0.24], [3.59, -0.47], [3.84, -0.88], [3.83, -0.94], [3.65, -0.87], [3.6, -0.84], [3.5, -0.74], [3.59, 0.1],
  [3.63, 0.28], [3.56, 0.29], [3.38, 0.2], [3.45, 0.1], [2.67, 2.53], [3.44, 2.51], [3.71, 2.4], [2.68, 2.28],
  [2.97, 2.22], [2.97, 2.15], [2.6, 2.13], [2.8, 2.12], [2.36, 2.11], [2.3, 2.06], [2.3, 1.97], [3.14, 1.8],
  [2.74, 1.86], [2.62, 1.71], [2.41, 1.56], [2.55, 1.53], [2.85, 1.51], [3.07, 1.6], [1.96, 1.46], [2.1, 1.33],
  [2.23, 1.3], [1.83, 1.25], [1.7, 1.58], [2.73, 1.31], [2.91, 1.31], [3.09, 1.39], [3.14, 1.15], [2.48, 1.22],
  [2.38, 1.15], [2.62, 1.11], [2.71, 1.07], [3.02, 0.9], [2.97, 0.85], [3.28, 0.35], [3.19, 0.35], [3.43, 0.07],
  [3.28, -0.1], [3.52, -0.44], [3.33, -0.51], [3.47, -0.77], [3.3, -0.8], [3.19, -1.02], [2.95, -1.31], [3.02, -1.2],
  [3.12, -1.74], [3.02, -1.89], [2.48, -1.74], [2.24, -1.71], [2.62, -1.67], [2.76, -1.74], [3.12, -2.1], [2.41, -2.08],
  [2.76, -1.97], [2.9, -2], [2.79, -2.17], [2.62, -2.25], [2.39, -2.31], [2.95, -2.26], [2.9, -2.37], [2.18, -2.44],
  [1.95, -2.32], [1.84, -2.39], [1.74, -2.2], [1.63, -2.52], [2.38, -2.82], [1.48, -2.89], [1.93, -2.89], [2.14, -1.92],
  [2.05, -1.74], [1.64, -1.89], [1.72, -3.22], [1.9, -3.2], [1.65, -2.49], [1.82, -1.98], [1.58, -1.55], [2.86, -1.55],
  [3.08, -1.45], [3.2, -0.25], [3.38, -0.35], [3.14, 0.6], [2.96, 1.05], [3.08, 0.72]
];
const yellowOverPurple = [
  [1.22, 1.13], [1.37, 1.13], [0.98, 0.6], [1.28, 0.72], [1.38, 0.52], [1.24, 0.3], [1.3, -0.03], [1.45, -0.22],
  [1.2, -0.85], [1.32, -1.02], [1.4, -1.15], [1.28, -1.62], [1.5, -1.62], [1.62, -1.35], [1.66, -1.12], [1.68, -0.9],
  [1.54, -0.62], [1.36, -0.52], [1.75, 0.75], [1.6, 0.25], [1.7, -0.18], [1.82, -0.62], [0.98, -1.66]
];
const tealOverPurple = [
  [-0.18, 0.53], [0.98, 0.82], [0.63, 0.93], [0.1, 0.82], [1.62, 1.36], [1.79, 1.51], [1.74, 1.67], [-0.6, 0.68],
  [-0.25, 0.82], [0.4, 1.05], [-0.78, 0.42]
];

const fromRows = (rows) => rows.flatMap(([y, xs]) => xs.map((x) => [x, y]));

// Bottom to top; the last entry ends up on top of the others
const layers = [
  [1, fromRows(blueRows).concat(blueOuter)],
  [3, fromRows(greenRows).concat(greenOuter)],
  [1, blueOverGreen],
  [2, fromRows(tealRows).concat(tealOuter)],
  [4, fromRows(yellowRows).concat(yellowOuter)],
  [0, fromRows(purpleRows).concat(purpleOuter)],
  [4, yellowOverPurple],
  [2, tealOverPurple]
];

Chart.defaults.font.family = "'DejaVu Sans', sans-serif";
Chart.defaults.font.size = 14;
Chart.defaults.color = "#000";
Chart.defaults.animation = false;

const minusSign = (v) => String(v).replace("-", "\u2212");

// spines are drawn here so all four sides sit on the chart area
const frame = {
  id: "frame",
  afterDraw(chart) {
    const { ctx, chartArea: a } = chart;
    ctx.save();
    ctx.strokeStyle = "#000";
    ctx.lineWidth = 1.1;
    ctx.strokeRect(a.left, a.top, a.right - a.left, a.bottom - a.top);
    ctx.restore();
  }
};

function tickOptions(values) {
  return {
    padding: 5,
    autoSkip: false,
    maxRotation: 0,
    includeBounds: false,
    stepSize: 2,
    callback: (v) => (values.includes(v) ? minusSign(v) : "")
  };
}

new Chart(document.getElementById("scatter"), {
  type: "scatter",
  data: {
    datasets: layers.map(([cluster, points], i) => ({
      data: points,
      order: layers.length - i,
      pointRadius: 4.9,
      pointBorderWidth: 2,
      pointBackgroundColor: "rgba(" + clusterColors[cluster] + ",0.6)",
      pointBorderColor: "rgba(" + clusterColors[cluster] + ",0.6)",
      pointHoverRadius: 4.9
    }))
  },
  options: {
    responsive: false,
    events: [],
    layout: { padding: { left: 0, right: 226, top: 0, bottom: 0 } },
    plugins: {
      legend: { display: false },
      tooltip: { enabled: false },
      title: {
        display: true,
        text: "MLB Player Clusters (PCA Visualization)",
        fullSize: false,
        color: "#000",
        font: { size: 18.3, weight: "normal" },
        padding: { top: 71, bottom: 4.5 }
      }
    },
    scales: {
      x: {
        type: "linear",
        min: -4.58,
        max: 7.08,
        afterFit(scale) { scale.height = 89.5; },
        grid: { color: "#b0b0b0", lineWidth: 1.1, z: 1, tickColor: "#000", tickLength: 5 },
        border: { display: false },
        ticks: tickOptions(xTicks),
        title: { display: true, text: "Principal Component 1", color: "#000", font: { size: 15.3 }, padding: { top: 0, bottom: 40.8 } }
      },
      y: {
        type: "linear",
        min: -7.83,
        max: 6.83,
        afterFit(scale) { scale.width = 155.5; },
        grid: { color: "#b0b0b0", lineWidth: 1.1, z: 1, tickColor: "#000", tickLength: 5 },
        border: { display: false },
        ticks: tickOptions(yTicks),
        title: { display: true, text: "Principal Component 2", color: "#000", font: { size: 15.3 }, padding: { top: 95.8, bottom: 0 } }
      }
    }
  },
  plugins: [frame]
});

// label of the colour bar reads bottom to top, which the right-hand axis title cannot do
const barLabel = {
  id: "barLabel",
  afterDraw(chart) {
    const { ctx, chartArea: a } = chart;
    ctx.save();
    ctx.translate(107, (a.top + a.bottom) / 2);
    ctx.rotate(-Math.PI / 2);
    ctx.font = "15.3px 'DejaVu Sans'";
    ctx.fillStyle = "#000";
    ctx.textAlign = "center";
    ctx.textBaseline = "middle";
    ctx.fillText("Cluster", 0, 0);
    ctx.restore();
  }
};

function barGradient(context) {
  const { ctx, chartArea: a } = context.chart;
  if (!a) return "rgba(0,0,0,0)";
  const g = ctx.createLinearGradient(0, a.bottom, 0, a.top);
  barStops.forEach((c, i) => g.addColorStop(i / (barStops.length - 1), "rgba(" + c + ",0.6)"));
  return g;
}

new Chart(document.getElementById("colorbar"), {
  type: "bar",
  data: {
    labels: [""],
    datasets: [{
      data: [barRange],
      backgroundColor: barGradient,
      barPercentage: 1,
      categoryPercentage: 1
    }]
  },
  options: {
    responsive: false,
    events: [],
    layout: { padding: { left: 25, right: 0, top: 97.5, bottom: 89.5 } },
    plugins: { legend: { display: false }, tooltip: { enabled: false } },
    scales: {
      x: { display: false },
      y: {
        position: "right",
        min: barRange[0],
        max: barRange[1],
        afterFit(scale) { scale.width = 141; },
        grid: { drawOnChartArea: false, tickColor: "#000", tickLength: 5 },
        border: { display: false },
        ticks: {
          padding: 5,
          stepSize: 0.5,
          autoSkip: false,
          callback: (v) => (barTicks.includes(v) ? v.toFixed(1) : "")
        }
      }
    }
  },
  plugins: [frame, barLabel]
});
</script>
</body>
</html>
